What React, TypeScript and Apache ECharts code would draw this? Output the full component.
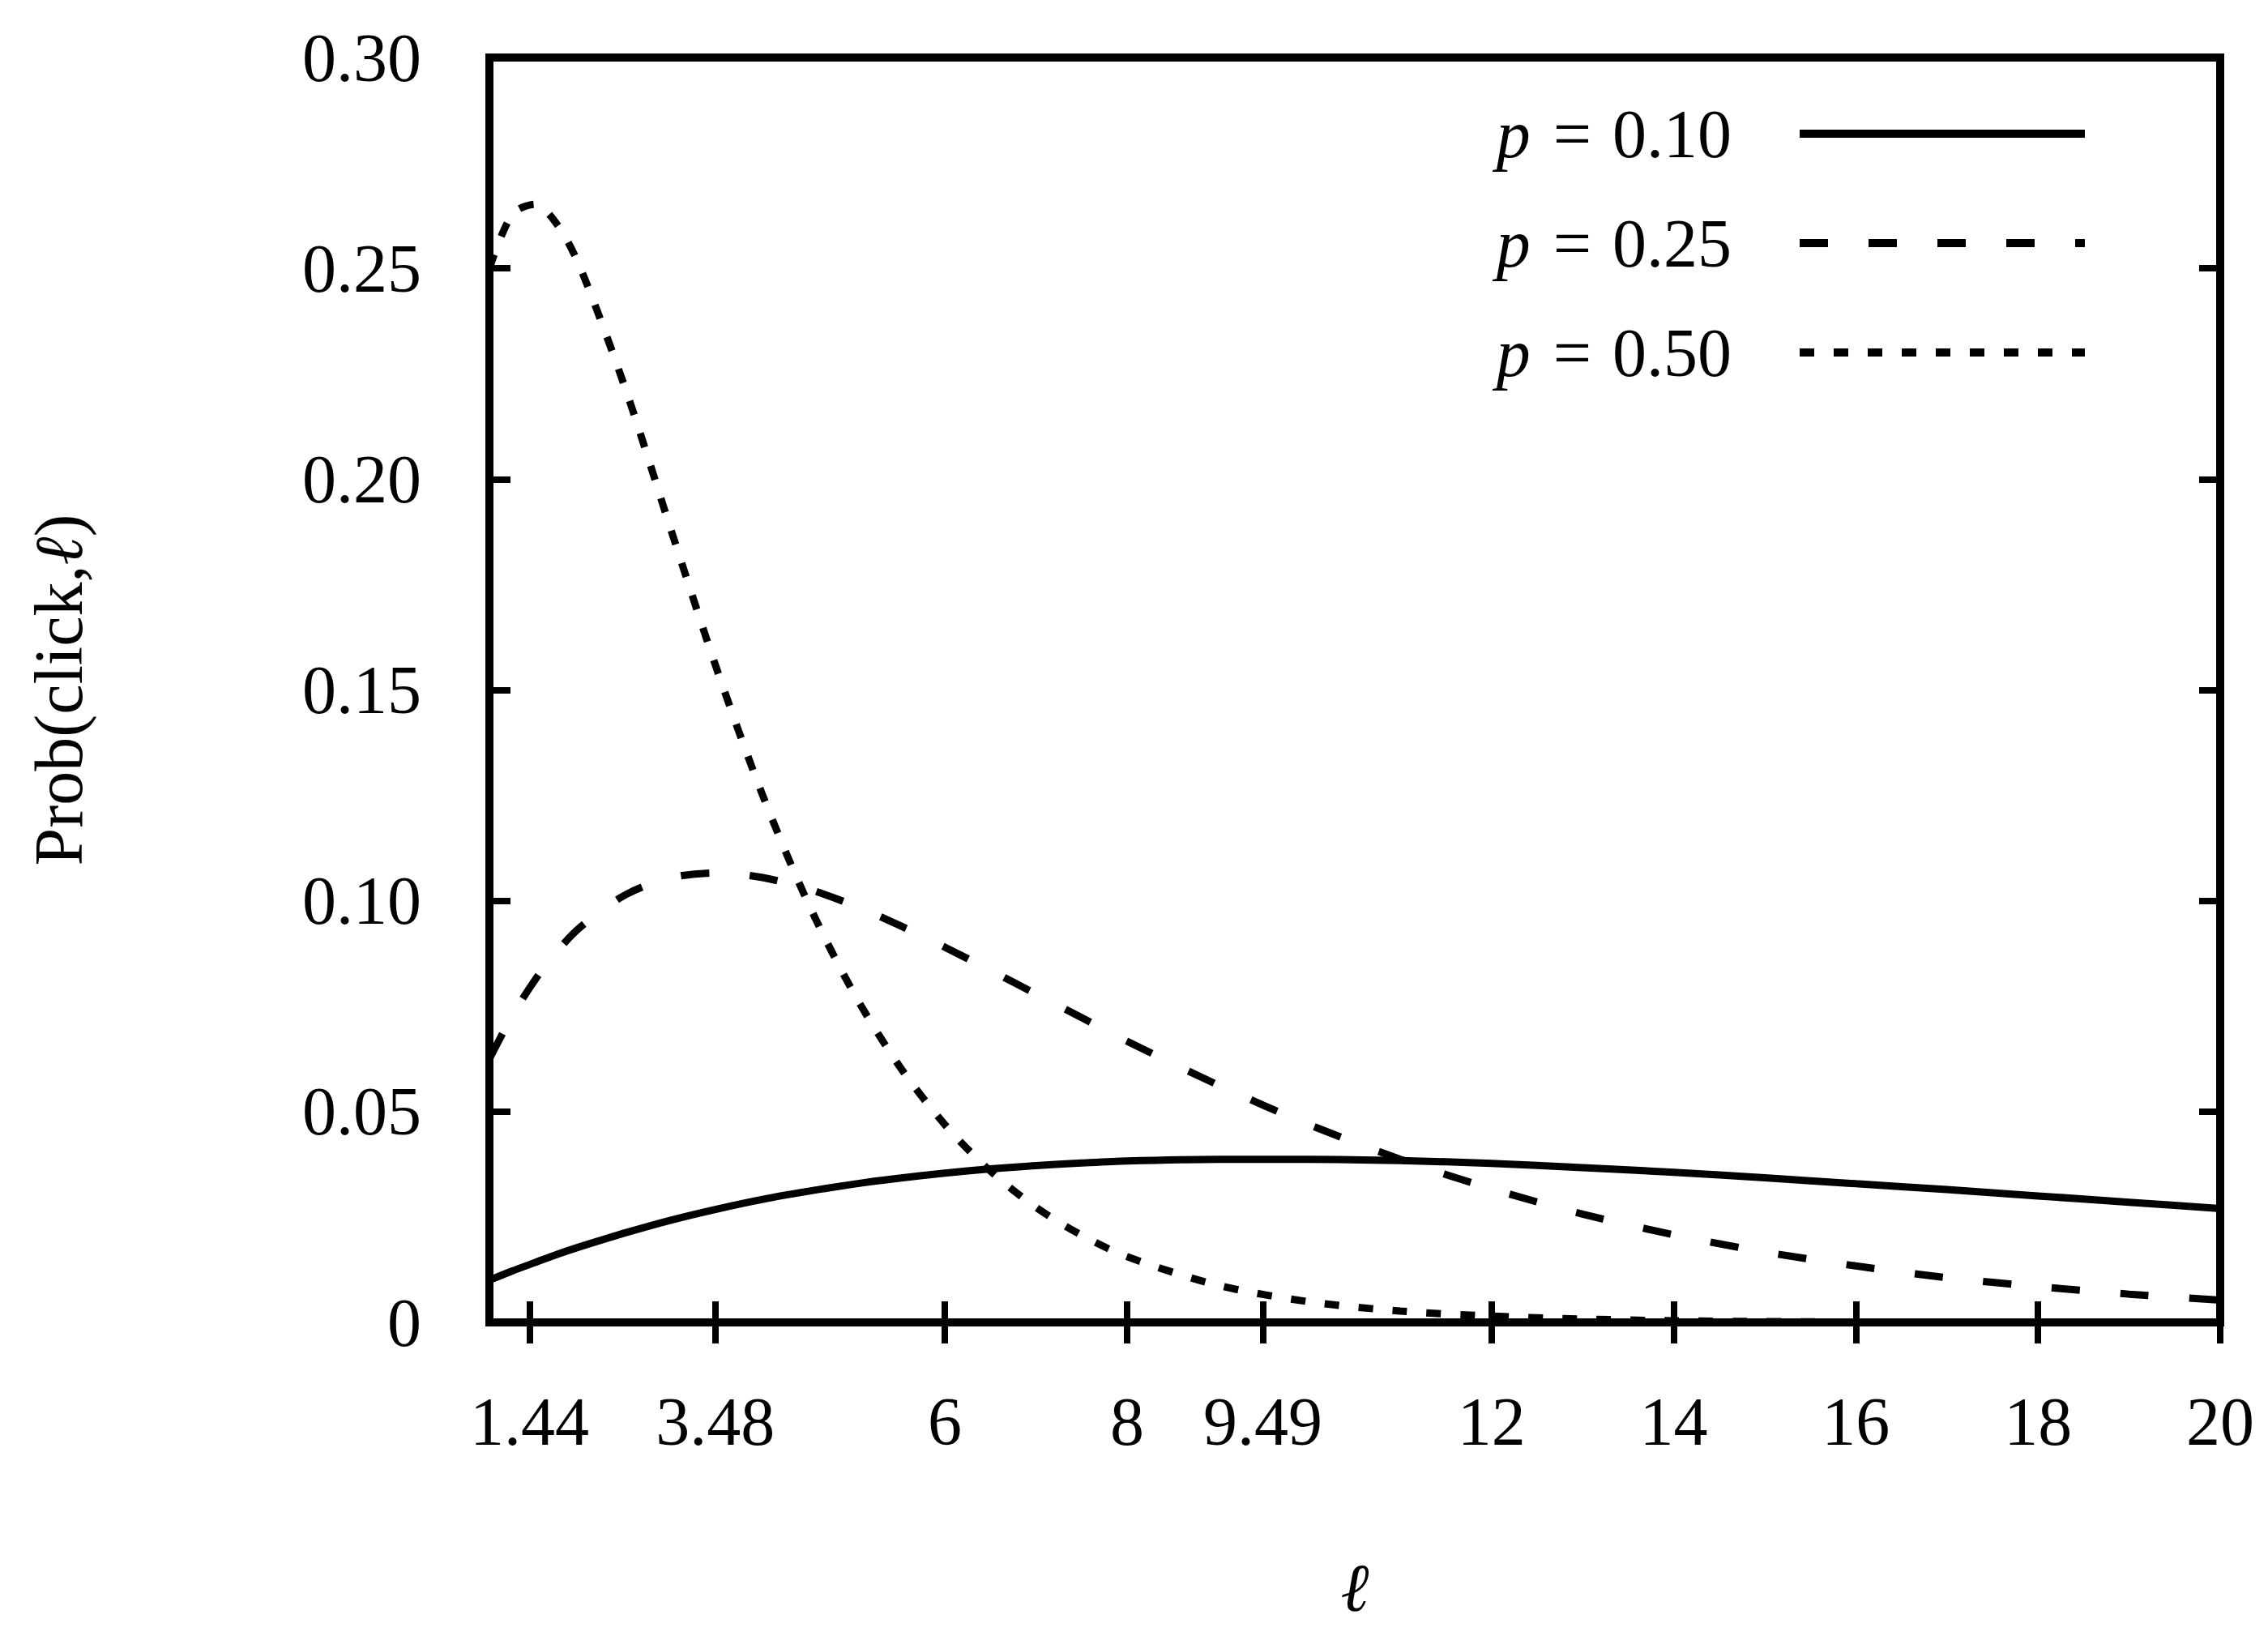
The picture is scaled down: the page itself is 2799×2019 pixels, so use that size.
import React, { useEffect, useRef } from "react";
import * as echarts from "echarts";

const ELL = [1, 1.25, 1.5, 1.75, 2, 2.5, 3, 3.5, 4, 4.5, 5, 5.5, 6, 6.5, 7, 7.5, 8, 9, 10, 11, 12, 13, 14, 15, 16, 17, 18, 19, 20];

const P10 = [0.0100, 0.0122, 0.0142, 0.0162, 0.0180, 0.0213, 0.0243, 0.0269, 0.0292, 0.0311, 0.0328, 0.0342, 0.0354, 0.0364, 0.0372, 0.0378, 0.0383, 0.0387, 0.0387, 0.0384, 0.0377, 0.0367, 0.0356, 0.0343, 0.0329, 0.0315, 0.0300, 0.0285, 0.0270];
const P25 = [0.0625, 0.0727, 0.0812, 0.0882, 0.0938, 0.1015, 0.1055, 0.1066, 0.1055, 0.1028, 0.0989, 0.0942, 0.0890, 0.0835, 0.0779, 0.0723, 0.0667, 0.0563, 0.0469, 0.0387, 0.0317, 0.0257, 0.0208, 0.0167, 0.0134, 0.0106, 0.0085, 0.0067, 0.0053];
const P50 = [0.2500, 0.2628, 0.2652, 0.2602, 0.2500, 0.2210, 0.1875, 0.1547, 0.1250, 0.0994, 0.0781, 0.0608, 0.0469, 0.0359, 0.0273, 0.0207, 0.0156, 0.0088, 0.0049, 0.0027, 0.0015, 0.0008, 0.0004, 0.0002, 0.0001, 0.0001, 0.0000, 0.0000, 0.0000];

const SERIES_NAMES = ["p = 0.10", "p = 0.25", "p = 0.50"];
const X_TICKS = [1.44, 3.48, 6, 8, 9.49, 12, 14, 16, 18, 20];
const Y_MIN = 0;
const Y_MAX = 0.3;
const Y_STEP = 0.05;
const X_MIN = 1;
const X_MAX = 20;

const FONT = "Liberation Serif";
const FS = 84;

function pairs(ys: number[]) {
  return ELL.map((x, i) => [x, ys[i]]);
}

export default function App() {
  const ref = useRef<HTMLDivElement>(null);
  useEffect(() => {
    if (!ref.current) return;
    const chart = echarts.init(ref.current, undefined, { renderer: "svg" });
    const tickStyle = { show: true, inside: true, length: 26, lineStyle: { color: "#000", width: 8 } };
    const option: any = {
      animation: false,
      backgroundColor: "#fff",
      textStyle: { fontFamily: FONT, color: "#000" },
      grid: {
        left: 604,
        right: 59,
        top: 71,
        bottom: 387,
        show: true,
        borderColor: "#000",
        borderWidth: 10,
        backgroundColor: "transparent",
        containLabel: false,
      },
      legend: {
        show: true,
        orient: "vertical",
        right: 221,
        top: 123,
        align: "right",
        padding: 0,
        itemGap: 51,
        itemWidth: 352,
        itemHeight: 10,
        selectedMode: false,
        data: SERIES_NAMES,
        lineStyle: { width: 10, type: "inherit", cap: "butt" },
        itemStyle: { opacity: 0, borderWidth: 0 },
        formatter: (name: string) => {
          const val = name.split("= ")[1];
          return `{i|p}{e|=}{n|${val}}{s|}`;
        },
        textStyle: {
          fontFamily: FONT,
          fontSize: FS,
          color: "#000",
          lineHeight: FS,
          rich: {
            i: { fontFamily: FONT, fontSize: FS, fontStyle: "italic", color: "#000", lineHeight: FS },
            e: { fontFamily: FONT, fontSize: FS, color: "#000", padding: [0, 26, 0, 28], lineHeight: FS },
            n: { fontFamily: FONT, fontSize: FS, color: "#000", lineHeight: FS },
            s: { width: 79, lineHeight: FS },
          },
        },
      },
      xAxis: [
        {
          type: "value",
          position: "bottom",
          min: X_MIN,
          max: X_MAX,
          name: "ℓ",
          nameLocation: "middle",
          nameGap: 285,
          nameTextStyle: { fontFamily: FONT, fontSize: FS, fontStyle: "italic", color: "#000" },
          axisLine: { show: false },
          splitLine: { show: false },
          axisTick: { ...tickStyle, customValues: X_TICKS },
          axisLabel: {
            customValues: X_TICKS,
            margin: 80,
            fontFamily: FONT,
            fontSize: FS,
            color: "#000",
            formatter: (v: number) => String(v),
          },
        },
        {
          type: "value",
          position: "top",
          min: X_MIN,
          max: X_MAX,
          axisLine: { show: false },
          splitLine: { show: false },
          axisTick: { ...tickStyle, customValues: X_TICKS },
          axisLabel: { show: false },
        },
      ],
      yAxis: [
        {
          type: "value",
          position: "left",
          min: Y_MIN,
          max: Y_MAX,
          interval: Y_STEP,
          name: "{a|Prob(click,}{b|ℓ}{a|)}",
          nameLocation: "middle",
          nameGap: 490,
          nameTextStyle: {
            fontFamily: FONT,
            fontSize: FS,
            color: "#000",
            rich: {
              a: { fontFamily: FONT, fontSize: FS, color: "#000" },
              b: { fontFamily: FONT, fontSize: FS, fontStyle: "italic", color: "#000" },
            },
          },
          axisLine: { show: false },
          splitLine: { show: false },
          axisTick: tickStyle,
          axisLabel: {
            margin: 84,
            fontFamily: FONT,
            fontSize: FS,
            color: "#000",
            padding: [0, 0, 14, 0],
            formatter: (v: number) => (v === 0 ? "0" : v.toFixed(2)),
          },
        },
        {
          type: "value",
          position: "right",
          min: Y_MIN,
          max: Y_MAX,
          interval: Y_STEP,
          axisLine: { show: false },
          splitLine: { show: false },
          axisTick: tickStyle,
          axisLabel: { show: false },
        },
      ],
      series: [
        {
          name: SERIES_NAMES[0],
          type: "line",
          data: pairs(P10),
          symbol: "none",
          smooth: 0.3,
          clip: true,
          color: "#000",
          lineStyle: { color: "#000", width: 9, type: "solid", cap: "butt" },
        },
        {
          name: SERIES_NAMES[1],
          type: "line",
          data: pairs(P25),
          symbol: "none",
          smooth: 0.3,
          clip: true,
          color: "#000",
          lineStyle: { color: "#000", width: 9, type: [35, 50], cap: "butt" },
        },
        {
          name: SERIES_NAMES[2],
          type: "line",
          data: pairs(P50),
          symbol: "none",
          smooth: 0.3,
          clip: true,
          color: "#000",
          lineStyle: { color: "#000", width: 9, type: [18, 24], cap: "butt" },
        },
      ],
    };
    chart.setOption(option);
    return () => chart.dispose();
  }, []);
  return (
    <div
      ref={ref}
      style={{ position: "absolute", left: 0, top: 0, width: 2799, height: 2019, background: "#fff" }}
    />
  );
}
